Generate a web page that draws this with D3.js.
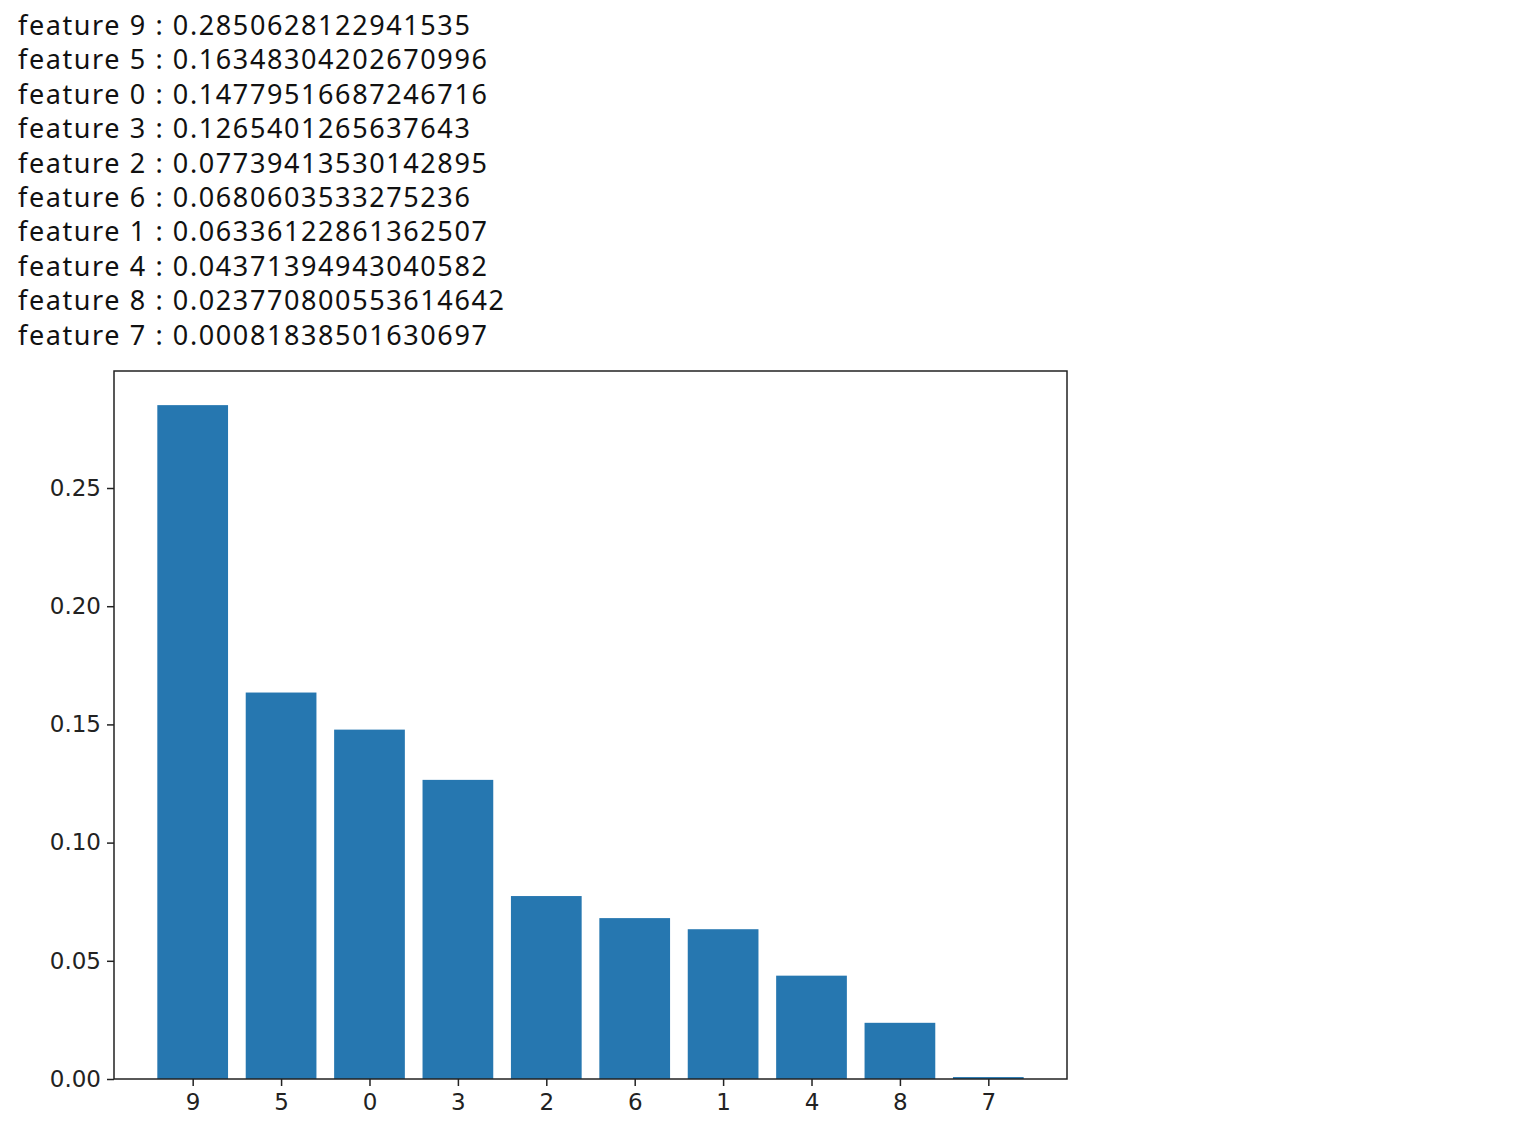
<!DOCTYPE html>
<html><head><meta charset="utf-8">
<script src="https://cdnjs.cloudflare.com/ajax/libs/d3/7.8.5/d3.min.js"></script>
<style>body{margin:0;background:#fff;}</style>
</head><body>
<svg id="chart" width="1536" height="1140"></svg>
<script>
var features = [9, 5, 0, 3, 2, 6, 1, 4, 8, 7];
var importances = [0.2850628122941535, 0.16348304202670996, 0.14779516687246716, 0.1265401265637643,
  0.07739413530142895, 0.0680603533275236, 0.06336122861362507, 0.04371394943040582,
  0.023770800553614642, 0.00081838501630697];
var labels = ["feature 9 : 0.2850628122941535", "feature 5 : 0.16348304202670996",
  "feature 0 : 0.14779516687246716", "feature 3 : 0.1265401265637643",
  "feature 2 : 0.07739413530142895", "feature 6 : 0.0680603533275236",
  "feature 1 : 0.06336122861362507", "feature 4 : 0.04371394943040582",
  "feature 8 : 0.023770800553614642", "feature 7 : 0.00081838501630697"];
var yTicks = [0, 0.05, 0.10, 0.15, 0.20, 0.25];

var svg = d3.select("#chart");
svg.selectAll("text.line").data(labels).enter().append("text")
  .attr("class", "line")
  .attr("x", 18).attr("y", function(d, i) { return 35 + i * 34.4; })
  .attr("font-family", "Noto Sans, sans-serif").attr("font-size", 27)
  .attr("letter-spacing", 1.6)
  .attr("fill", "#111").text(function(d) { return d; });

var pLeft = 114, pRight = 1067, pTop = 371, pBottom = 1079;
var x = d3.scaleLinear().domain([-0.89, 9.89]).range([pLeft, pRight]);
var y = d3.scaleLinear().domain([0, 0.2995]).range([pBottom, pTop]);

svg.selectAll("rect.bar").data(importances).enter().append("rect")
  .attr("class", "bar")
  .attr("x", function(d, i) { return x(i - 0.4); })
  .attr("width", x(0.8) - x(0))
  .attr("y", function(d) { return y(d); })
  .attr("height", function(d) { return pBottom - y(d); })
  .attr("fill", "#2677b0");

svg.append("rect").attr("x", pLeft).attr("y", pTop)
  .attr("width", pRight - pLeft).attr("height", pBottom - pTop)
  .attr("fill", "none").attr("stroke", "#222").attr("stroke-width", 1.5);

var yAxis = svg.append("g").attr("transform", "translate(" + pLeft + ",0)")
  .call(d3.axisLeft(y).tickValues(yTicks).tickFormat(d3.format(".2f")).tickSize(7).tickPadding(6));
var xAxis = svg.append("g").attr("transform", "translate(0," + pBottom + ")")
  .call(d3.axisBottom(x).tickValues(d3.range(10)).tickFormat(function(i) { return features[i]; }).tickSize(7).tickPadding(8));
[yAxis, xAxis].forEach(function(g) {
  g.select(".domain").remove();
  g.selectAll("line").attr("stroke", "#222").attr("stroke-width", 1.5);
  g.selectAll("text").attr("font-family", "DejaVu Sans, sans-serif").attr("font-size", 23).attr("fill", "#222");
});
</script>
</body></html>
